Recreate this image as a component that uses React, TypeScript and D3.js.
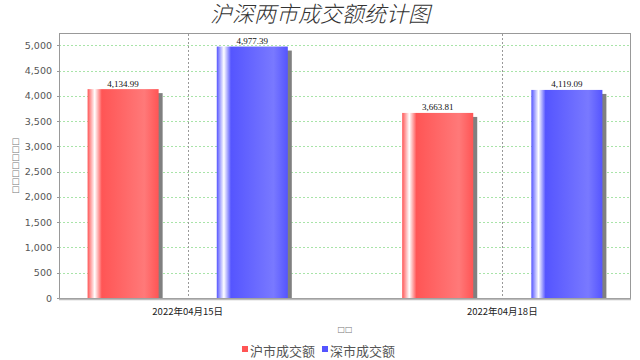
import React from "react";
import * as d3 from "d3";

const title = "沪深两市成交额统计图";
const categories = ["2022年04月15日", "2022年04月18日"];
const seriesNames = ["沪市成交额", "深市成交额"];
const shValues = [4134.99, 3663.81];
const szValues = [4977.39, 4119.09];
const yTicks = [0, 500, 1000, 1500, 2000, 2500, 3000, 3500, 4000, 4500, 5000];
const xAxisLabel = "□□";
const yAxisLabel = "□□□□□□□";

const colors = ["#FF5555", "#5555FF"];
const brighter = ["#FF7979", "#7979FF"];

const W = 640;
const H = 360;
const plot = { left: 59, right: 631, top: 34, bottom: 298 };

export default function App() {
  const series = [shValues, szValues];
  const maxV = d3.max(series.flat()) as number;
  const y = d3.scaleLinear().domain([0, maxV * 1.05]).range([plot.bottom, plot.top]);
  const x0 = d3
    .scaleBand<string>()
    .domain(categories)
    .range([plot.left, plot.right])
    .paddingInner(0.3636)
    .paddingOuter(0.0909);
  const x1 = d3
    .scaleBand<string>()
    .domain(seriesNames)
    .range([0, x0.bandwidth()])
    .paddingInner(0.45)
    .paddingOuter(0);
  const fmt = d3.format(",.2f");
  const tickFmt = d3.format(",");

  const bars: { cat: string; s: number; v: number; x: number; w: number }[] = [];
  categories.forEach((c, i) => {
    seriesNames.forEach((sn, s) => {
      bars.push({ cat: c, s, v: series[s][i], x: (x0(c) as number) + (x1(sn) as number), w: x1.bandwidth() });
    });
  });

  const legendStart = 242;
  const legendStep = 80;

  return (
    <svg
      width={W}
      height={H}
      style={{ position: "absolute", left: 0, top: 0, background: "#fff" }}
      xmlns="http://www.w3.org/2000/svg"
    >
      <defs>
        {colors.map((c, i) => (
          <linearGradient key={i} id={`grad${i}`} x1="0" y1="0" x2="1" y2="0">
            <stop offset="0" stopColor={c} />
            <stop offset="0.1" stopColor="#ffffff" />
            <stop offset="0.2" stopColor={c} />
            <stop offset="0.8" stopColor={brighter[i]} />
            <stop offset="1" stopColor={c} />
          </linearGradient>
        ))}
        <clipPath id="plotClip">
          <rect x={plot.left} y={plot.top} width={plot.right - plot.left} height={plot.bottom - plot.top} />
        </clipPath>
      </defs>
      <rect x={0} y={0} width={W} height={H} fill="#fff" />

      {/* title */}
      <text
        x={320}
        y={21.5}
        textAnchor="middle"
        fontFamily="'Noto Sans CJK SC'"
        fontSize={22}
        fontStyle="italic"
        fontWeight={300}
        fill="#333"
      >
        {title}
      </text>

      {/* gridlines */}
      {yTicks.map((t) => (
        <line
          key={t}
          x1={plot.left}
          x2={plot.right}
          y1={Math.round(y(t)) + 0.5}
          y2={Math.round(y(t)) + 0.5}
          stroke="#a8e4a8"
          strokeDasharray="2,2"
          strokeWidth={1}
        />
      ))}
      {categories.map((c) => {
        const cx = Math.round((x0(c) as number) + x0.bandwidth() / 2) + 0.5;
        return (
          <line key={c} x1={cx} x2={cx} y1={plot.top} y2={plot.bottom} stroke="#999" strokeDasharray="2,2" strokeWidth={1} />
        );
      })}

      {/* bars */}
      <g clipPath="url(#plotClip)">
        {bars.map((b, i) => (
          <rect key={`sh${i}`} x={b.x + 4} y={y(b.v) + 4} width={b.w} height={plot.bottom - y(b.v)} fill="#808080" />
        ))}
        {bars.map((b, i) => (
          <rect key={`b${i}`} x={b.x} y={y(b.v)} width={b.w} height={plot.bottom - y(b.v)} fill={`url(#grad${b.s})`} />
        ))}
      </g>
      {bars.map((b, i) => (
        <text
          key={`l${i}`}
          x={b.x + b.w / 2}
          y={y(b.v) - 2.5}
          textAnchor="middle"
          fontFamily="'Liberation Serif'"
          fontSize={9}
          fill="#111"
        >
          {fmt(b.v)}
        </text>
      ))}

      {/* plot border */}
      <rect
        x={plot.left + 0.5}
        y={plot.top - 0.5}
        width={plot.right - plot.left - 1}
        height={plot.bottom - plot.top + 1}
        fill="none"
        stroke="#999"
        strokeWidth={1}
      />
      <line x1={plot.left} x2={plot.right} y1={299.5} y2={299.5} stroke="#bbb" strokeWidth={1.5} />

      {/* y axis ticks */}
      {yTicks.map((t) => (
        <g key={`yt${t}`}>
          <line x1={57} x2={59} y1={Math.round(y(t)) + 0.5} y2={Math.round(y(t)) + 0.5} stroke="#999" />
          <text
            x={52}
            y={y(t)}
            textAnchor="end"
            dominantBaseline="central"
            fontFamily="'DejaVu Sans'"
            fontSize={9.5}
            fill="#555"
          >
            {tickFmt(t)}
          </text>
        </g>
      ))}

      {/* x axis labels */}
      {categories.map((c) => (
        <text
          key={`xt${c}`}
          x={(x0(c) as number) + x0.bandwidth() / 2}
          y={311}
          textAnchor="middle"
          dominantBaseline="central"
          fontFamily="'Noto Sans CJK SC'"
          fontSize={9.5}
          fill="#222"
        >
          {c}
        </text>
      ))}

      {/* axis titles */}
      <text
        x={(plot.left + plot.right) / 2}
        y={329.5}
        textAnchor="middle"
        dominantBaseline="central"
        fontFamily="'DejaVu Sans'"
        fontSize={8}
        fill="#777"
      >
        {xAxisLabel}
      </text>
      <text
        transform={`translate(14.5,166) rotate(-90)`}
        textAnchor="middle"
        dominantBaseline="central"
        fontFamily="'DejaVu Sans'"
        fontSize={8.5}
        fill="#777"
      >
        {yAxisLabel}
      </text>

      {/* legend */}
      {seriesNames.map((s, i) => {
        const lx = legendStart + i * legendStep;
        return (
          <g key={`lg${s}`}>
            <rect x={lx} y={346} width={6} height={6} fill={colors[i]} />
            <text
              x={lx + 8}
              y={350}
              dominantBaseline="central"
              fontFamily="'Noto Sans CJK SC'"
              fontSize={13}
              fill="#555"
            >
              {s}
            </text>
          </g>
        );
      })}
    </svg>
  );
}
